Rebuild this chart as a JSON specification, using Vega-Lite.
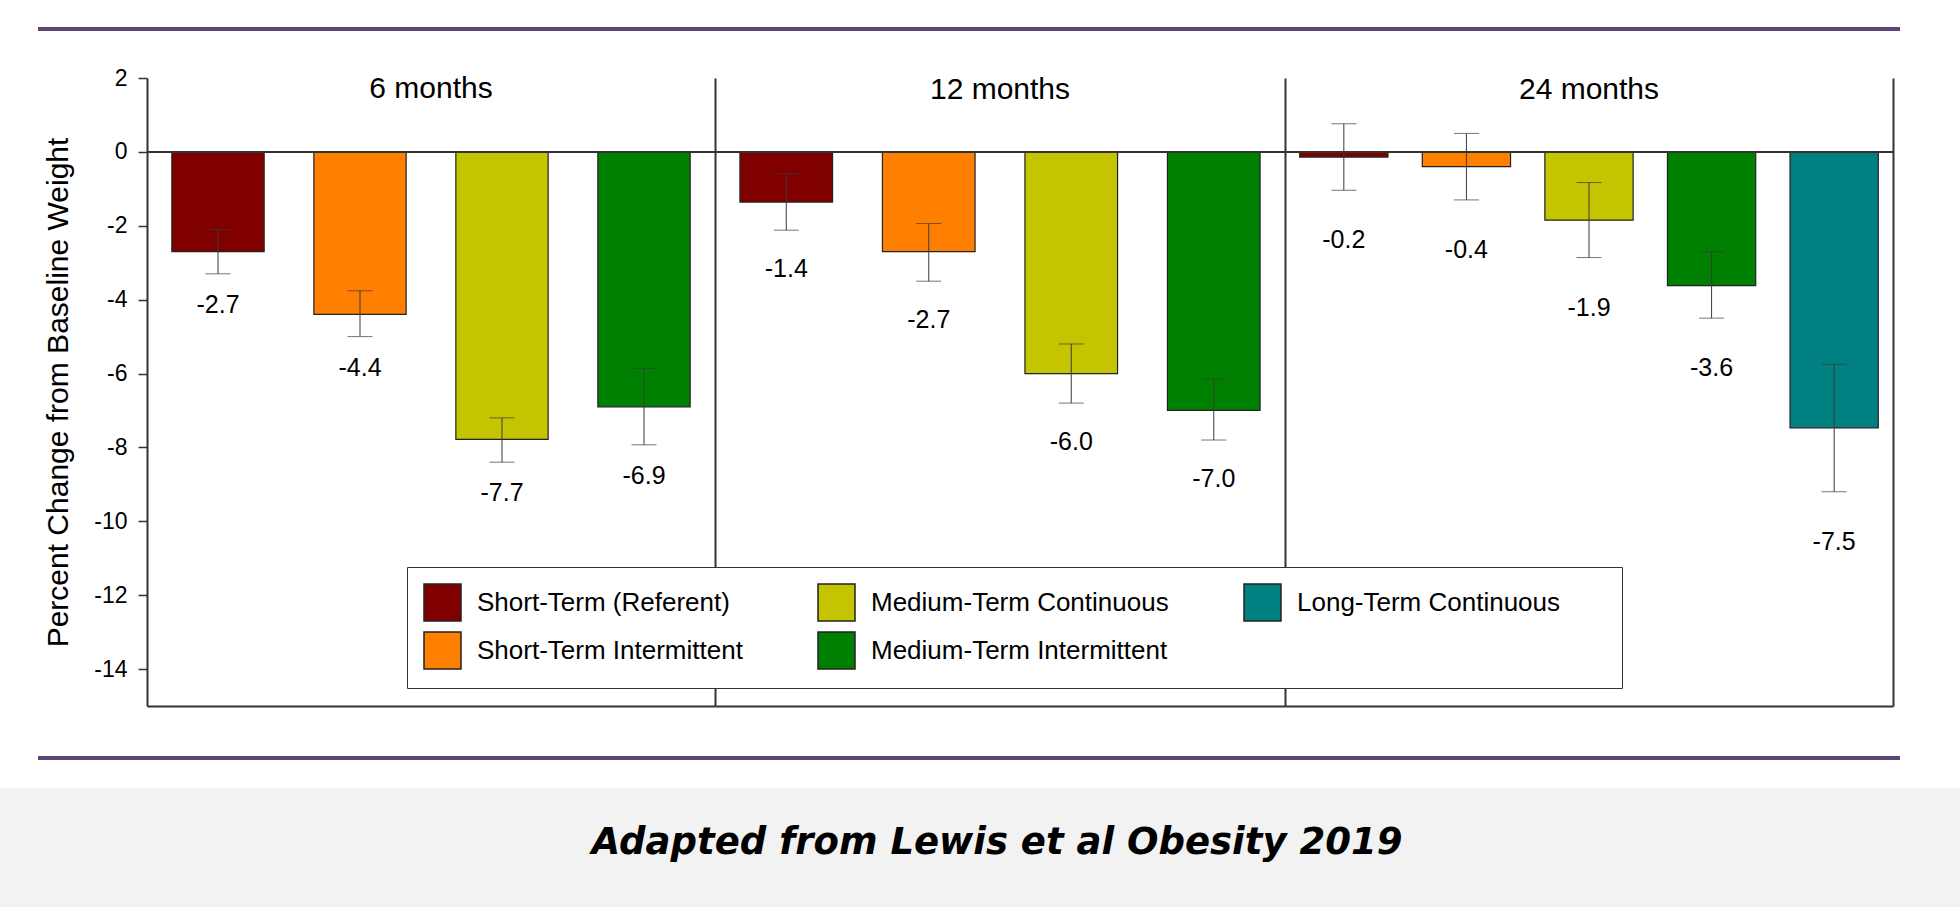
{
  "$schema": "https://vega.github.io/schema/vega-lite/v6.json",
  "background": "white",
  "padding": {"left": 0, "top": 23, "right": 0, "bottom": 0},
  "spacing": 0,
  "config": {
    "view": {"stroke": null},
    "font": "Liberation Sans",
    "concat": {"spacing": 0},
    "axis": {"grid": false}
  },
  "datasets": {
    "blank": [{"k": 1}],
    "bars": [
      {"period": "6 months", "group": "Short-Term (Referent)", "mean": -2.7, "lo": -3.3, "hi": -2.1, "label": "-2.7"},
      {"period": "6 months", "group": "Short-Term Intermittent", "mean": -4.4, "lo": -5.0, "hi": -3.76, "label": "-4.4"},
      {"period": "6 months", "group": "Medium-Term Continuous", "mean": -7.78, "lo": -8.4, "hi": -7.2, "label": "-7.7"},
      {"period": "6 months", "group": "Medium-Term Intermittent", "mean": -6.9, "lo": -7.93, "hi": -5.86, "label": "-6.9"},
      {"period": "12 months", "group": "Short-Term (Referent)", "mean": -1.36, "lo": -2.12, "hi": -0.59, "label": "-1.4"},
      {"period": "12 months", "group": "Short-Term Intermittent", "mean": -2.7, "lo": -3.5, "hi": -1.94, "label": "-2.7"},
      {"period": "12 months", "group": "Medium-Term Continuous", "mean": -6.0, "lo": -6.8, "hi": -5.2, "label": "-6.0"},
      {"period": "12 months", "group": "Medium-Term Intermittent", "mean": -7.0, "lo": -7.8, "hi": -6.15, "label": "-7.0"},
      {"period": "24 months", "group": "Short-Term (Referent)", "mean": -0.14, "lo": -1.04, "hi": 0.76, "label": "-0.2"},
      {"period": "24 months", "group": "Short-Term Intermittent", "mean": -0.4, "lo": -1.3, "hi": 0.5, "label": "-0.4"},
      {"period": "24 months", "group": "Medium-Term Continuous", "mean": -1.85, "lo": -2.86, "hi": -0.83, "label": "-1.9"},
      {"period": "24 months", "group": "Medium-Term Intermittent", "mean": -3.62, "lo": -4.5, "hi": -2.7, "label": "-3.6"},
      {"period": "24 months", "group": "Long-Term Continuous", "mean": -7.47, "lo": -9.2, "hi": -5.75, "label": "-7.5"}
    ]
  },
  "vconcat": [
    {
      "spacing": 0,
      "hconcat": [
        {"width": 38, "height": 4, "view": {"fill": "white", "stroke": null}, "data": {"name": "blank"}, "mark": "text", "encoding": {"text": {"value": ""}}},
        {"width": 1862, "height": 4, "view": {"fill": "#5e4674", "stroke": null}, "data": {"name": "blank"}, "mark": "text", "encoding": {"text": {"value": ""}}}
      ]
    },
    {"width": 1, "height": 33, "view": {"fill": "white", "stroke": null}, "data": {"name": "blank"}, "mark": "text", "encoding": {"text": {"value": ""}}},
    {
      "spacing": 0,
      "bounds": "flush",
      "resolve": {"scale": {"color": "independent"}},
      "hconcat": [
        {"width": 147, "height": 628, "view": {"fill": "white", "stroke": null}, "data": {"name": "blank"}, "mark": "text", "encoding": {"text": {"value": ""}}},
        {
          "width": 568, "height": 628,
          "data": {"name": "bars"},
          "transform": [{"filter": "datum.period == '6 months'"}],
          "title": {"text": "6 months", "fontSize": 30, "fontWeight": "normal", "offset": -37, "anchor": "middle", "frame": "group", "color": "black"},
          "resolve": {"axis": {"y": "independent"}},
          "layer": [
            {
              "mark": {"type": "bar", "stroke": "#222", "strokeWidth": 1.2},
              "encoding": {
                "x": {"field": "group", "type": "nominal",
                  "sort": ["Short-Term (Referent)", "Short-Term Intermittent", "Medium-Term Continuous", "Medium-Term Intermittent"],
                  "scale": {"paddingInner": 0.35, "paddingOuter": 0.175},
                  "axis": {"labels": false, "ticks": false, "title": null, "domainColor": "#333", "domainWidth": 2}},
                "y": {"field": "mean", "type": "quantitative",
                  "scale": {"domain": [-15, 2], "nice": false, "zero": false},
                  "axis": {"title": "Percent Change from Baseline Weight", "values": [2, 0, -2, -4, -6, -8, -10, -12, -14],
                    "labelExpr": "datum.value + ''", "labelFontSize": 23, "labelColor": "black", "labelPadding": 11,
                    "tickSize": 9, "tickColor": "#333", "tickWidth": 1.5, "domainColor": "#333", "domainWidth": 2,
                    "titleFontSize": 30, "titleFontWeight": "normal", "titleColor": "black", "titlePadding": 20}},
                "color": {"field": "group", "type": "nominal",
                  "scale": {"domain": ["Short-Term (Referent)", "Medium-Term Continuous", "Long-Term Continuous", "Short-Term Intermittent", "Medium-Term Intermittent"],
                    "range": ["#800000", "#c4c400", "#008080", "#ff8000", "#008000"]},
                  "legend": null}
              }
            },
            {"mark": {"type": "rule", "color": "#3a3a3a", "strokeWidth": 1}, "encoding": {"x": {"field": "group", "type": "nominal", "sort": ["Short-Term (Referent)", "Short-Term Intermittent", "Medium-Term Continuous", "Medium-Term Intermittent"]}, "y": {"field": "lo", "type": "quantitative", "axis": null}, "y2": {"field": "hi"}}},
            {"mark": {"type": "tick", "color": "#3a3a3a", "thickness": 1, "size": 25}, "encoding": {"x": {"field": "group", "type": "nominal", "sort": ["Short-Term (Referent)", "Short-Term Intermittent", "Medium-Term Continuous", "Medium-Term Intermittent"]}, "y": {"field": "lo", "type": "quantitative", "axis": null}}},
            {"mark": {"type": "tick", "color": "#3a3a3a", "thickness": 1, "size": 25}, "encoding": {"x": {"field": "group", "type": "nominal", "sort": ["Short-Term (Referent)", "Short-Term Intermittent", "Medium-Term Continuous", "Medium-Term Intermittent"]}, "y": {"field": "hi", "type": "quantitative", "axis": null}}},
            {"mark": {"type": "text", "fontSize": 25, "dy": 31, "baseline": "middle", "color": "black"}, "encoding": {"x": {"field": "group", "type": "nominal", "sort": ["Short-Term (Referent)", "Short-Term Intermittent", "Medium-Term Continuous", "Medium-Term Intermittent"]}, "y": {"field": "lo", "type": "quantitative", "axis": null}, "text": {"field": "label"}}},
            {"mark": {"type": "rule", "color": "#333", "strokeWidth": 2}, "encoding": {"y": {"datum": 0, "axis": null}}}
          ]
        },
        {
          "width": 570, "height": 628,
          "data": {"name": "bars"},
          "transform": [{"filter": "datum.period == '12 months'"}],
          "title": {"text": "12 months", "fontSize": 30, "fontWeight": "normal", "offset": -27, "anchor": "middle", "frame": "group", "color": "black"},
          "resolve": {"axis": {"y": "independent"}},
          "layer": [
            {
              "mark": {"type": "bar", "stroke": "#222", "strokeWidth": 1.2},
              "encoding": {
                "x": {"field": "group", "type": "nominal",
                  "sort": ["Short-Term (Referent)", "Short-Term Intermittent", "Medium-Term Continuous", "Medium-Term Intermittent"],
                  "scale": {"paddingInner": 0.35, "paddingOuter": 0.175},
                  "axis": {"labels": false, "ticks": false, "title": null, "domainColor": "#333", "domainWidth": 2}},
                "y": {"field": "mean", "type": "quantitative",
                  "scale": {"domain": [-15, 2], "nice": false, "zero": false},
                  "axis": {"title": null, "labels": false, "ticks": false, "domainColor": "#333", "domainWidth": 2}},
                "color": {"field": "group", "type": "nominal",
                  "scale": {"domain": ["Short-Term (Referent)", "Medium-Term Continuous", "Long-Term Continuous", "Short-Term Intermittent", "Medium-Term Intermittent"],
                    "range": ["#800000", "#c4c400", "#008080", "#ff8000", "#008000"]},
                  "legend": null}
              }
            },
            {"mark": {"type": "rule", "color": "#3a3a3a", "strokeWidth": 1}, "encoding": {"x": {"field": "group", "type": "nominal", "sort": ["Short-Term (Referent)", "Short-Term Intermittent", "Medium-Term Continuous", "Medium-Term Intermittent"]}, "y": {"field": "lo", "type": "quantitative", "axis": null}, "y2": {"field": "hi"}}},
            {"mark": {"type": "tick", "color": "#3a3a3a", "thickness": 1, "size": 25}, "encoding": {"x": {"field": "group", "type": "nominal", "sort": ["Short-Term (Referent)", "Short-Term Intermittent", "Medium-Term Continuous", "Medium-Term Intermittent"]}, "y": {"field": "lo", "type": "quantitative", "axis": null}}},
            {"mark": {"type": "tick", "color": "#3a3a3a", "thickness": 1, "size": 25}, "encoding": {"x": {"field": "group", "type": "nominal", "sort": ["Short-Term (Referent)", "Short-Term Intermittent", "Medium-Term Continuous", "Medium-Term Intermittent"]}, "y": {"field": "hi", "type": "quantitative", "axis": null}}},
            {"mark": {"type": "text", "fontSize": 25, "dy": 39, "baseline": "middle", "color": "black"}, "encoding": {"x": {"field": "group", "type": "nominal", "sort": ["Short-Term (Referent)", "Short-Term Intermittent", "Medium-Term Continuous", "Medium-Term Intermittent"]}, "y": {"field": "lo", "type": "quantitative", "axis": null}, "text": {"field": "label"}}},
            {"mark": {"type": "rule", "color": "#333", "strokeWidth": 2}, "encoding": {"y": {"datum": 0, "axis": null}}}
          ]
        },
        {
          "width": 608, "height": 628,
          "data": {"name": "bars"},
          "transform": [{"filter": "datum.period == '24 months'"}],
          "title": {"text": "24 months", "fontSize": 30, "fontWeight": "normal", "offset": -27, "anchor": "middle", "frame": "group", "color": "black"},
          "resolve": {"axis": {"y": "independent"}},
          "layer": [
            {
              "mark": {"type": "bar", "stroke": "#222", "strokeWidth": 1.2},
              "encoding": {
                "x": {"field": "group", "type": "nominal",
                  "sort": ["Short-Term (Referent)", "Short-Term Intermittent", "Medium-Term Continuous", "Medium-Term Intermittent", "Long-Term Continuous"],
                  "scale": {"paddingInner": 0.28, "paddingOuter": 0.12},
                  "axis": {"labels": false, "ticks": false, "title": null, "domainColor": "#333", "domainWidth": 2}},
                "y": {"field": "mean", "type": "quantitative",
                  "scale": {"domain": [-15, 2], "nice": false, "zero": false},
                  "axis": {"title": null, "labels": false, "ticks": false, "domainColor": "#333", "domainWidth": 2}},
                "color": {"field": "group", "type": "nominal",
                  "scale": {"domain": ["Short-Term (Referent)", "Medium-Term Continuous", "Long-Term Continuous", "Short-Term Intermittent", "Medium-Term Intermittent"],
                    "range": ["#800000", "#c4c400", "#008080", "#ff8000", "#008000"]},
                  "legend": {"orient": "none", "legendX": -878, "legendY": 489, "direction": "horizontal", "columns": 3,
                    "title": " ", "titleOrient": "right", "titlePadding": 46, "titleFontSize": 10,
                    "symbolType": "square", "symbolSize": 1369, "symbolStrokeColor": "#222", "symbolStrokeWidth": 1.5, "symbolOpacity": 1,
                    "labelFontSize": 26, "labelColor": "black", "labelOffset": 15, "labelLimit": 600,
                    "columnPadding": 72, "rowPadding": 5, "padding": 16, "strokeColor": "#333", "fillColor": "white"}}
              }
            },
            {"mark": {"type": "rule", "color": "#3a3a3a", "strokeWidth": 1}, "encoding": {"x": {"field": "group", "type": "nominal", "sort": ["Short-Term (Referent)", "Short-Term Intermittent", "Medium-Term Continuous", "Medium-Term Intermittent", "Long-Term Continuous"]}, "y": {"field": "lo", "type": "quantitative", "axis": null}, "y2": {"field": "hi"}}},
            {"mark": {"type": "tick", "color": "#3a3a3a", "thickness": 1, "size": 25}, "encoding": {"x": {"field": "group", "type": "nominal", "sort": ["Short-Term (Referent)", "Short-Term Intermittent", "Medium-Term Continuous", "Medium-Term Intermittent", "Long-Term Continuous"]}, "y": {"field": "lo", "type": "quantitative", "axis": null}}},
            {"mark": {"type": "tick", "color": "#3a3a3a", "thickness": 1, "size": 25}, "encoding": {"x": {"field": "group", "type": "nominal", "sort": ["Short-Term (Referent)", "Short-Term Intermittent", "Medium-Term Continuous", "Medium-Term Intermittent", "Long-Term Continuous"]}, "y": {"field": "hi", "type": "quantitative", "axis": null}}},
            {"mark": {"type": "text", "fontSize": 25, "dy": 50, "baseline": "middle", "color": "black"}, "encoding": {"x": {"field": "group", "type": "nominal", "sort": ["Short-Term (Referent)", "Short-Term Intermittent", "Medium-Term Continuous", "Medium-Term Intermittent", "Long-Term Continuous"]}, "y": {"field": "lo", "type": "quantitative", "axis": null}, "text": {"field": "label"}}},
            {"mark": {"type": "rule", "color": "#333", "strokeWidth": 2}, "encoding": {"y": {"datum": 0, "axis": {"orient": "right", "title": null, "labels": false, "ticks": false, "domainColor": "#333", "domainWidth": 2}}}}
          ]
        }
      ]
    },
    {"width": 1, "height": 46, "view": {"fill": "white", "stroke": null}, "data": {"name": "blank"}, "mark": "text", "encoding": {"text": {"value": ""}}},
    {
      "spacing": 0,
      "hconcat": [
        {"width": 38, "height": 4, "view": {"fill": "white", "stroke": null}, "data": {"name": "blank"}, "mark": "text", "encoding": {"text": {"value": ""}}},
        {"width": 1862, "height": 4, "view": {"fill": "#5e4674", "stroke": null}, "data": {"name": "blank"}, "mark": "text", "encoding": {"text": {"value": ""}}}
      ]
    },
    {"width": 1, "height": 25, "view": {"fill": "white", "stroke": null}, "data": {"name": "blank"}, "mark": "text", "encoding": {"text": {"value": ""}}},
    {
      "width": 1960, "height": 121,
      "view": {"fill": "#f2f2f2", "stroke": null},
      "data": {"name": "blank"},
      "mark": {"type": "text", "font": "DejaVu Sans", "fontWeight": "bold", "fontStyle": "italic", "fontSize": 37, "dx": 17, "dy": -6, "baseline": "middle", "align": "center", "color": "black"},
      "encoding": {"text": {"value": "Adapted from Lewis et al Obesity 2019"}}
    }
  ]
}
